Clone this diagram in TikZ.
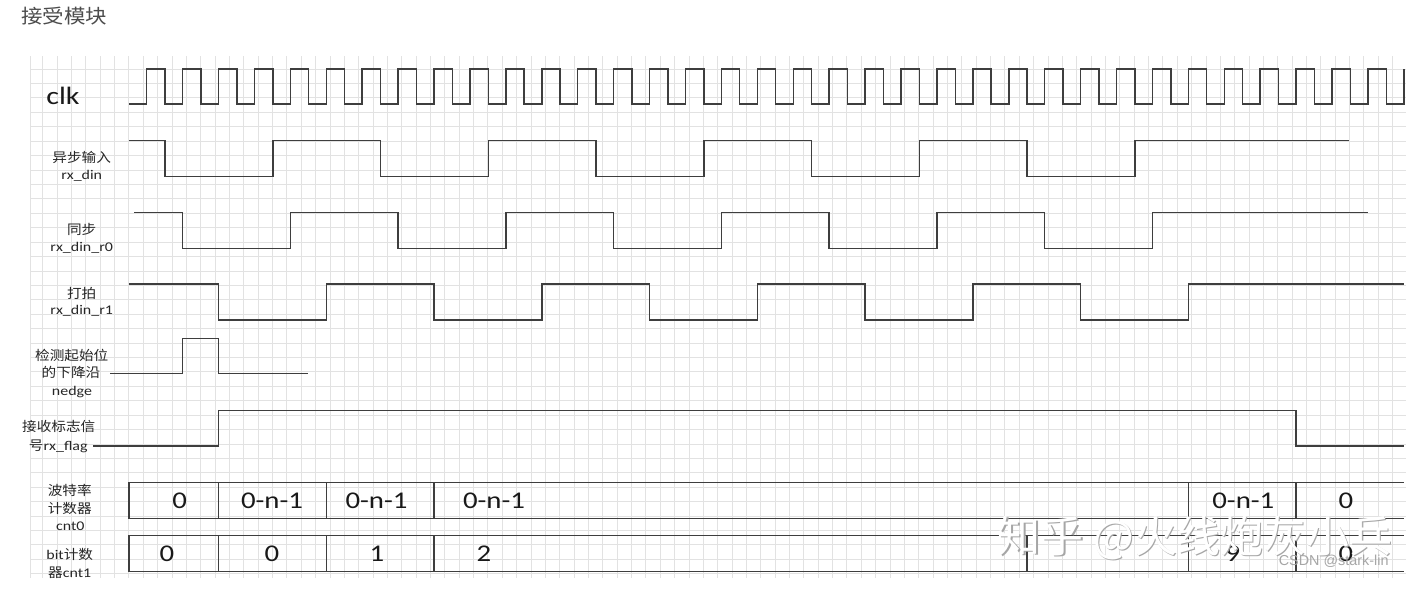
\documentclass[tikz,border=0pt]{standalone}
\usepackage{fontspec}
\setmainfont{Carlito}
\newfontfamily\zh[FakeStretch=1.1]{Noto Sans CJK SC}
\newfontfamily\zhwide{Noto Sans CJK SC}
\newfontfamily\en[FakeStretch=1.2]{Carlito}
\newfontfamily\wmfont{Liberation Sans}
\definecolor{gridline}{RGB}{226,226,226}
\definecolor{waveline}{RGB}{62,62,62}

\begin{document}
\begin{tikzpicture}
    \tikzset{x=1pt, y=-1pt}
    \tikzstyle{gridln}=[draw=gridline, line width=0.75pt]
    \tikzstyle{wave}=[draw=waveline, line width=1.5pt]
    \tikzstyle{lbl}=[inner sep=0pt, text=black!85, font=\zh\fontsize{13.3}{15}\selectfont]
    \tikzstyle{heading}=[inner sep=0pt, text=black!70, font=\zh\fontsize{19.5}{22}\selectfont]
    \tikzstyle{clkname}=[inner sep=0pt, text=black!90, font=\en\fontsize{25}{28}\selectfont]
    \tikzstyle{cntval}=[inner sep=0pt, text=black!90, font=\en\fontsize{24}{28}\selectfont]
    \tikzstyle{stamp}=[inner sep=0pt, font=\zhwide\fontsize{43}{48}\selectfont]

    \fill[white] (0, 0) rectangle (1426, 598);
    \useasboundingbox (0, 0) rectangle (1426, 598);

    \foreach \i in {0,...,94}
        \draw[gridln] ({42.7+14.36*\i}, 56) -- ({42.7+14.36*\i}, 578);
    \draw[gridln] (30.7, 56) -- (30.7, 578);
    \foreach \j in {0,...,35}
        \draw[gridln] (30.7, {69+14.42*\j}) -- (1406, {69+14.42*\j});

    \draw (64.0, 16.2)      node[heading]   (title)     {接受模块};

    \draw (63.0, 95.8)      node[clkname]   (clk)       {clk};
    \draw (81.7, 157.5)     node[lbl]       (din)       {异步输入};
    \draw (81.7, 176.0)     node[lbl]       (dinid)     {\en rx\_din};
    \draw (81.7, 229.0)     node[lbl]       (r0)        {同步};
    \draw (81.7, 248.0)     node[lbl]       (r0id)      {\en rx\_din\_r0};
    \draw (81.7, 293.3)     node[lbl]       (r1)        {打拍};
    \draw (81.7, 310.7)     node[lbl]       (r1id)      {\en rx\_din\_r1};
    \draw (71.8, 355.0)     node[lbl]       (ne)        {检测起始位};
    \draw (71.0, 372.7)     node[lbl]       (ne2)       {的下降沿};
    \draw (72.0, 391.7)     node[lbl]       (neid)      {\en nedge};
    \draw (58.7, 426.0)     node[lbl]       (flag)      {接收标志信};
    \draw (58.3, 446.7)     node[lbl]       (flagid)    {号{\en rx\_flag}};
    \draw (69.7, 490.0)     node[lbl]       (c0)        {波特率};
    \draw (69.7, 508.3)     node[lbl]       (c0b)       {计数器};
    \draw (70.3, 526.0)     node[lbl]       (c0id)      {\en cnt0};
    \draw (69.7, 554.0)     node[lbl]       (c1)        {{\en bit}计数};
    \draw (69.7, 572.7)     node[lbl]       (c1id)      {器{\en cnt1}};

    \draw[wave] (129.3, 104) \foreach \k in {0,...,34} {
        -- ({146.7+35.92*\k}, 104) -- ({146.7+35.92*\k}, 69)
        -- ({165.0+35.92*\k}, 69) -- ({165.0+35.92*\k}, 104) }
        -- (1403.9, 104) -- (1403.9, 69);

    \draw[wave] (129.3, 140.5) -| (165.0, 176.4) -| (272.8, 140.5) -| (380.5, 176.4)
        -| (488.3, 140.5) -| (596.0, 176.4) -| (703.8, 140.5) -| (811.6, 176.4)
        -| (919.3, 140.5) -| (1027.1, 176.4) -| (1134.8, 140.5) -- (1349.3, 140.5);

    \draw[wave] (134.0, 212.3) -| (182.6, 248.3) -| (290.4, 212.3) -| (398.1, 248.3)
        -| (505.9, 212.3) -| (613.7, 248.3) -| (721.4, 212.3) -| (829.2, 248.3)
        -| (937.0, 212.3) -| (1044.7, 248.3) -| (1152.5, 212.3) -- (1367.7, 212.3);

    \draw[wave] (129.3, 284.2) -| (218.5, 320.0) -| (326.3, 284.2) -| (434.1, 320.0)
        -| (541.8, 284.2) -| (649.6, 320.0) -| (757.3, 284.2) -| (865.1, 320.0)
        -| (972.9, 284.2) -| (1080.6, 320.0) -| (1188.4, 284.2) -- (1403.9, 284.2);

    \draw[wave] (110.0, 373.5) -| (182.6, 338.3) -| (218.5, 373.5) -- (308.3, 373.5);

    \draw[wave] (93.3, 445.8) -| (218.5, 410.7) -| (1296.1, 445.8) -- (1403.9, 445.8);

    \draw[wave] (1403.5, 482.3) -- (129.0, 482.3) -- (129.0, 518.3) -- (1403.5, 518.3);
    \foreach \x in {218.5, 326.3, 434.1, 1188.4, 1296.1}
        \draw[wave] (\x, 482.3) -- (\x, 518.3);
    \draw[wave] (1403.5, 535.7) -- (129.0, 535.7) -- (129.0, 571.7) -- (1403.5, 571.7);
    \foreach \x in {218.5, 326.3, 434.1, 1027.1, 1188.4, 1296.1}
        \draw[wave] (\x, 535.7) -- (\x, 571.7);

    \draw (179.7, 500.3)    node[cntval]    (v00)       {0};
    \draw (272.0, 500.3)    node[cntval]    (v01)       {0-n-1};
    \draw (376.5, 500.3)    node[cntval]    (v02)       {0-n-1};
    \draw (494.0, 500.3)    node[cntval]    (v03)       {0-n-1};
    \draw (1243.3, 500.3)   node[cntval]    (v04)       {0-n-1};
    \draw (1346.0, 500.3)   node[cntval]    (v05)       {0};

    \draw (167.0, 553.7)    node[cntval]    (b00)       {0};
    \draw (272.0, 553.7)    node[cntval]    (b01)       {0};
    \draw (377.0, 553.7)    node[cntval]    (b02)       {1};
    \draw (484.0, 553.7)    node[cntval]    (b03)       {2};
    \draw (1233.0, 553.7)   node[cntval]    (b04)       {9};
    \draw (1346.0, 553.7)   node[cntval]    (b05)       {0};

    \draw (1196.5, 539.5)   node[stamp, text=black!35]  (wmsh)  {知乎 @火线炮灰小兵};
    \draw (1195.0, 538.0)   node[stamp, text=white]     (wm)    {知乎 @火线炮灰小兵};
    \draw (1333.7, 561.7)   node[inner sep=0pt, text=black!35, font=\wmfont\fontsize{14.4}{16}\selectfont]
                                                    (csdn)  {CSDN @stark-lin};
\end{tikzpicture}
\end{document}
